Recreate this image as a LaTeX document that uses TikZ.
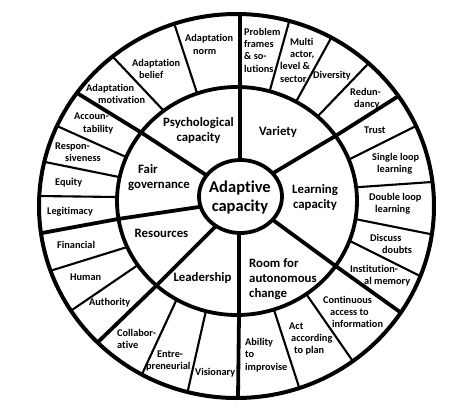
\documentclass[tikz,border=0pt]{standalone}
\usepackage{fontspec}
\setmainfont{Carlito}[Ligatures=NoCommon]
\usetikzlibrary{calc}
\tikzset{
  thinline/.style={line width=2.1pt},
  thickline/.style={line width=3.8pt, line join=round},
  ringline/.style={line width=3.8pt},
  outerlbl/.style={font=\fontsize{10.3}{12.3}\selectfont\bfseries, align=left, anchor=west, inner sep=0pt},
  midlbl/.style={font=\fontsize{12.8}{15}\selectfont\bfseries, align=center, inner sep=0pt},
  midlblL/.style={font=\fontsize{12.8}{15}\selectfont\bfseries, align=left, anchor=west, inner sep=0pt},
  centerlbl/.style={font=\fontsize{16.5}{19}\selectfont\bfseries, align=center, inner sep=0pt}
}
\newcommand\thinsep[2]{\draw[thinline] ($(#1)!-0.3!(#2)$) -- ($(#2)!-0.3!(#1)$);}
\newcommand\thicksep[3]{\draw[thickline] ($(#1)!-0.4!(#2)$) -- (#2) -- ($(#3)!-0.3!(#2)$);}
\begin{document}
\begin{tikzpicture}[x=1pt,y=-1pt]
\useasboundingbox (0,0) rectangle (474,410);
% thin separators in outer ring
\begin{scope}
\clip (236.5,206) ellipse [x radius=197.5pt, y radius=192pt];
\thinsep{197,93}{175,26}
\thinsep{163,110}{113,57}
\thinsep{126,157}{57,126}
\thinsep{119,177}{45,162}
\thinsep{117,197}{38,196}
\thinsep{270,90}{289,22}
\thinsep{297,100}{330,40}
\thinsep{319,115}{367,65}
\thinsep{352,158}{414,127}
\thinsep{360,187}{432,182}
\thinsep{360,220}{430,234}
\thinsep{354,243}{420,276}
\thinsep{309,298}{352,360}
\thinsep{275,313}{299,387}
\thinsep{205,315}{188,390}
\thinsep{175,303}{143,372}
\thinsep{135,267}{72,310}
\thinsep{124,248}{53,270}
\end{scope}
\fill[white] (237,201) ellipse [x radius=120pt, y radius=114pt];
% thick separators
\begin{scope}
\clip (236.5,206) ellipse [x radius=197.5pt, y radius=192pt];
\thicksep{240,160}{240,87}{240,14}
\thicksep{275,172}{337,135}{397,97}
\thicksep{277,223}{337,267}{400,312}
\thicksep{239,233}{239,315}{238,398}
\thicksep{210,232}{155,287}{98,342}
\thicksep{199,207}{118,219}{42,233}
\thicksep{203,173}{142,133}{77,93}
\end{scope}
\draw[ringline, fill=white] (240.5,196.5) ellipse [x radius=41.5pt, y radius=36.5pt];
\draw[ringline] (237,201) ellipse [x radius=120pt, y radius=114pt];
\draw[ringline, line width=4pt] (236.5,206) ellipse [x radius=197.5pt, y radius=192pt];
% centre
\node[centerlbl] (core) at (240,197.5) {Adaptive\\capacity};
% middle ring
\node[midlbl] (psy) at (198.5,131) {Psychological\\capacity};
\node[midlbl] (var) at (278,132) {Variety};
\node[midlbl] (lea) at (315,198) {Learning\\capacity};
\node[midlblL] (roo) at (249,279) {Room for\\autonomous\\change};
\node[midlbl] (ldr) at (202.5,278) {Leadership};
\node[midlbl] (res) at (161.5,233) {Resources};
\node[midlblL] (fai) at (128,177.5) {\hspace*{10pt}Fair\\governance};
% outer ring
\node[outerlbl] (o1) at (185,44.5) {Adaptation\\\hspace*{8pt}norm};
\node[outerlbl] (o2) at (132,69) {Adaptation\\\hspace*{7pt}belief};
\node[outerlbl] (o3) at (86,94) {Adaptation\\\hspace*{12pt}motivation};
\node[outerlbl] (o4) at (74,123.5) {Accoun-\\\hspace*{9pt}tability};
\node[outerlbl] (o5) at (55,152.5) {Respon-\\\hspace*{10pt}siveness};
\node[outerlbl] (o6) at (55,183) {Equity};
\node[outerlbl] (o7) at (47,212) {Legitimacy};
\node[outerlbl] (o8) at (57,245) {Financial};
\node[outerlbl] (o9) at (70,277) {Human};
\node[outerlbl] (o10) at (89,303) {Authority};
\node[outerlbl] (o11) at (117,339) {Collabor-\\ative};
\node[outerlbl] (o12) at (146,361) {\hspace*{11pt}Entre-\\preneurial};
\node[outerlbl] (o13) at (195,373) {Visionary};
\node[outerlbl] (o14) at (245,355) {Ability\\to\\improvise};
\node[outerlbl] (o15) at (289,339) {Act\\\hspace*{2pt}according\\\hspace*{5pt}to plan};
\node[outerlbl] (o16) at (323,312) {Continuous\\\hspace*{7pt}access to\\\hspace*{9pt}information};
\node[outerlbl] (o17) at (350,276) {Institution-\\\hspace*{14pt}al memory};
\node[outerlbl] (o18) at (370,244) {Discuss\\\hspace*{12pt}doubts};
\node[outerlbl] (o19) at (369,204) {Double loop\\\hspace*{6pt}learning};
\node[outerlbl] (o20) at (372,164) {Single loop\\\hspace*{5pt}learning};
\node[outerlbl] (o21) at (364,130) {Trust};
\node[outerlbl] (o22) at (350,99) {Redun-\\\hspace*{4pt}dancy};
\node[outerlbl] (o23) at (313,76) {Diversity};
\node[outerlbl] (o24) at (280,60) {\hspace*{10pt}Multi\\\hspace*{10pt}actor,\\level \&\\sector};
\node[outerlbl] (o25) at (244,50) {Problem\\frames\\\& so-\\lutions};
\end{tikzpicture}
\end{document}
